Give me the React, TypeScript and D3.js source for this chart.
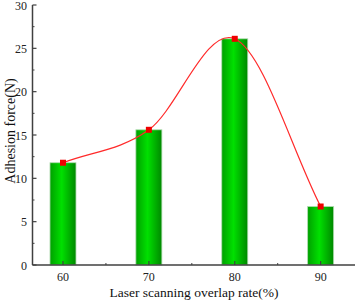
import React from "react";
import * as d3 from "d3";

const rates = [60, 70, 80, 90];
const forces = [11.8, 15.6, 26.1, 6.75];
const yTicks = [0, 5, 10, 15, 20, 25, 30];
const xMinorTicks = [65, 75, 85];

const width = 357;
const height = 300;

const x = d3.scaleLinear().domain([56.45, 94.0]).range([32.5, 355]);
const y = d3.scaleLinear().domain([0, 30]).range([265, 5]);
const barW = 26;

// spline through the points, ends get the full chord as tangent
const splinePath = () => {
  const pts = rates.map((r, i) => [x(r), y(forces[i])]);
  const n = pts.length;
  const ext = [
    [2 * pts[0][0] - pts[1][0], 2 * pts[0][1] - pts[1][1]],
    ...pts,
    [2 * pts[n - 1][0] - pts[n - 2][0], 2 * pts[n - 1][1] - pts[n - 2][1]],
  ];
  const tan = pts.map((_, i) => [
    (ext[i + 2][0] - ext[i][0]) / 2,
    (ext[i + 2][1] - ext[i][1]) / 2,
  ]);
  const p = d3.path();
  p.moveTo(pts[0][0], pts[0][1]);
  for (let i = 0; i < n - 1; i++) {
    p.bezierCurveTo(
      pts[i][0] + tan[i][0] / 3,
      pts[i][1] + tan[i][1] / 3,
      pts[i + 1][0] - tan[i + 1][0] / 3,
      pts[i + 1][1] - tan[i + 1][1] / 3,
      pts[i + 1][0],
      pts[i + 1][1]
    );
  }
  return p.toString();
};

const font = "'Liberation Serif', 'Times New Roman', serif";
const axisColor = "#404040";

const App = () => {
  const yMinor = d3.range(2.5, 30, 5);
  const x0 = x.range()[0];
  return (
    <svg
      width={width}
      height={height}
      style={{ position: "absolute", left: 0, top: 0, background: "#fff" }}
    >
      <defs>
        <linearGradient id="barGrad" x1="0" x2="1" y1="0" y2="0">
          <stop offset="0%" stopColor="#00a000" />
          <stop offset="45%" stopColor="#00e000" />
          <stop offset="100%" stopColor="#008800" />
        </linearGradient>
      </defs>

      {rates.map((r, i) => (
        <rect
          key={r}
          x={x(r) - barW / 2}
          y={y(forces[i])}
          width={barW}
          height={y(0) - y(forces[i])}
          fill="url(#barGrad)"
          stroke="#b0dcb0"
          strokeWidth={0.8}
        />
      ))}

      <path d={splinePath()} fill="none" stroke="#ff2a2a" strokeWidth={1.2} />
      {rates.map((r, i) => (
        <rect
          key={r}
          x={x(r) - 3}
          y={y(forces[i]) - 3}
          width={6}
          height={6}
          fill="#ee0000"
        />
      ))}

      {/* y axis */}
      <line x1={x0} x2={x0} y1={y(30)} y2={y(0)} stroke={axisColor} strokeWidth={1.5} />
      {yTicks.map((t) => (
        <g key={t}>
          <line x1={x0} x2={x0 + 4} y1={y(t)} y2={y(t)} stroke={axisColor} strokeWidth={1.2} />
          <text
            x={27}
            y={y(t) + 4.5}
            textAnchor="end"
            fontFamily={font}
            fontSize={12}
            fill="#222"
          >
            {t}
          </text>
        </g>
      ))}
      {yMinor.map((t) => (
        <line key={t} x1={x0} x2={x0 + 2} y1={y(t)} y2={y(t)} stroke={axisColor} strokeWidth={1} />
      ))}

      {/* x axis */}
      <line x1={x0} x2={x.range()[1]} y1={y(0)} y2={y(0)} stroke={axisColor} strokeWidth={1.5} />
      {rates.map((r) => (
        <g key={r}>
          <line x1={x(r)} x2={x(r)} y1={y(0)} y2={y(0) - 4} stroke={axisColor} strokeWidth={1.2} />
          <text
            x={x(r)}
            y={281}
            textAnchor="middle"
            fontFamily={font}
            fontSize={12}
            fill="#222"
          >
            {r}
          </text>
        </g>
      ))}
      {xMinorTicks.map((r) => (
        <line key={r} x1={x(r)} x2={x(r)} y1={y(0)} y2={y(0) - 2} stroke={axisColor} strokeWidth={1} />
      ))}

      <text
        x={194}
        y={297}
        textAnchor="middle"
        fontFamily={font}
        fontSize={13.5}
        fill="#111"
      >
        Laser scanning overlap rate(%)
      </text>
      <text
        transform={`translate(15, 131) rotate(-90)`}
        textAnchor="middle"
        fontFamily={font}
        fontSize={14}
        fill="#111"
      >
        Adhesion force(N)
      </text>
    </svg>
  );
};

export default App;
